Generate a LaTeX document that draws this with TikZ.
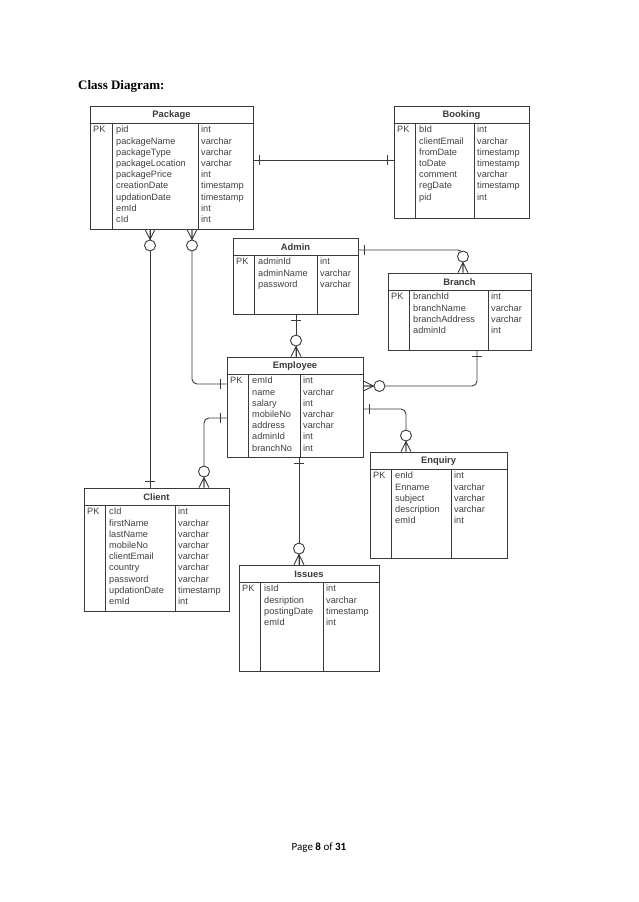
\documentclass[tikz,border=0pt]{standalone}
\usepackage{fontspec}
\setmainfont{Liberation Sans}
\newfontfamily\serifff{Liberation Serif}
\newfontfamily\calib{Carlito}
\usetikzlibrary{fit,calc}
\definecolor{ln}{HTML}{3A3A3A}
\definecolor{tx}{HTML}{404040}
\tikzset{
  ent/.style={draw=ln, line width=0.9pt, inner sep=0pt},
  conn/.style={draw=ln, line width=0.9pt, rounded corners=5pt},
  rowtxt/.style={text=tx, font=\fontsize{9.2}{11.2}\selectfont, align=left, inner sep=0pt, anchor=north west},
  hdr/.style={text=ln, font=\fontsize{9.4}{11.2}\selectfont\bfseries, inner sep=0pt},
  pics/crow/.style={code={
    \draw[ln, line width=0.9pt] (0,-5) -- (10,0) -- (0,5) (0,0) -- (10,0);
    \draw[ln, line width=0.9pt, fill=white] (16,0) circle (5.5);}},
  pics/onebar/.style={code={\draw[ln, line width=0.9pt] (6,-5) -- (6,5);}}
}
\newcommand\ent[8]{%
  \node[ent, fit={(#2,#3)(#4,#5)}] (#1) {};
  \draw[ln, line width=0.9pt] (#2,#3+17) -- (#4,#3+17) (#6,#3+17) -- (#6,#5) (#7,#3+17) -- (#7,#5);
  \node[hdr] at ({(#2+#4)/2},#3+9) {#8};
  \node[rowtxt] at (#2+3,#3+20) {PK};
  \def\dA{#6}\def\dB{#7}\def\tY{#3}}
\newcommand\entrows[2]{%
  \node[rowtxt] at (\dA+4,\tY+20) {#1};
  \node[rowtxt] at (\dB+3,\tY+20) {#2};}
\begin{document}
\begin{tikzpicture}[x=1pt,y=-1pt]
\useasboundingbox[fill=white] (0,0) rectangle (638,902);
\node[anchor=west, inner sep=0pt, font=\serifff\fontsize{13}{15}\selectfont\bfseries] (title) at (78,86) {Class Diagram:};
\node[inner sep=0pt, font=\calib\fontsize{11}{13}\selectfont] (footer) at (319,848) {Page \textbf{8} of \textbf{31}};

\ent{package}{90}{106}{253}{229}{112}{198}{Package}
\entrows{pid\\packageName\\packageType\\packageLocation\\packagePrice\\creationDate\\updationDate\\emId\\cId}{int\\varchar\\varchar\\varchar\\int\\timestamp\\timestamp\\int\\int}
\ent{booking}{394}{106}{529}{218}{415}{474}{Booking}
\entrows{bId\\clientEmail\\fromDate\\toDate\\comment\\regDate\\pid}{int\\varchar\\timestamp\\timestamp\\varchar\\timestamp\\int}
\ent{admin}{233}{238}{358}{314}{254}{317}{Admin}
\entrows{adminId\\adminName\\password}{int\\varchar\\varchar}
\ent{branch}{388}{273}{531}{350}{409}{488}{Branch}
\entrows{branchId\\branchName\\branchAddress\\adminId}{int\\varchar\\varchar\\int}
\ent{employee}{227}{357}{363}{457}{248}{300}{Employee}
\entrows{emId\\name\\salary\\mobileNo\\address\\adminId\\branchNo}{int\\varchar\\int\\varchar\\varchar\\int\\int}
\ent{client}{84}{488}{229}{611}{105}{175}{Client}
\entrows{cId\\firstName\\lastName\\mobileNo\\clientEmail\\country\\password\\updationDate\\emId}{int\\varchar\\varchar\\varchar\\varchar\\varchar\\varchar\\timestamp\\int}
\ent{enquiry}{370}{452}{507}{558}{391}{451}{Enquiry}
\entrows{enId\\Enname\\subject\\description\\emId}{int\\varchar\\varchar\\varchar\\int}
\ent{issues}{239}{565}{379}{671}{260}{323}{Issues}
\entrows{isId\\desription\\postingDate\\emId}{int\\varchar\\timestamp\\int}

\draw[conn] (package.east |- 0,160) -- (booking.west |- 0,160);
\draw[conn] (package.south -| 150,0) -- (client.north -| 150,0);
\draw[conn] (package.south -| 192,0) -- (192,384) -- (employee.west |- 0,384);
\draw[conn] (admin.east |- 0,250) -- (463,250) -- (branch.north -| 463,0);
\draw[conn] (admin.south -| 296,0) -- (employee.north -| 296,0);
\draw[conn] (employee.east |- 0,386) -- (477,386) -- (branch.south -| 477,0);
\draw[conn] (employee.west |- 0,418) -- (204,418) -- (client.north -| 204,0);
\draw[conn] (employee.east |- 0,409) -- (406,409) -- (enquiry.north -| 406,0);
\draw[conn] (employee.south -| 299,0) -- (issues.north -| 299,0);

\pic at (package.east |- 0,160) {onebar};
\pic[rotate=180] at (booking.west |- 0,160) {onebar};
\pic[rotate=-90] at (package.south -| 150,0) {crow};
\pic[rotate=90] at (client.north -| 150,0) {onebar};
\pic[rotate=-90] at (package.south -| 192,0) {crow};
\pic[rotate=180] at (employee.west |- 0,384) {onebar};
\pic at (admin.east |- 0,250) {onebar};
\pic[rotate=90] at (branch.north -| 463,0) {crow};
\pic[rotate=-90] at (admin.south -| 296,0) {onebar};
\pic[rotate=90] at (employee.north -| 296,0) {crow};
\pic at (employee.east |- 0,386) {crow};
\pic[rotate=-90] at (branch.south -| 477,0) {onebar};
\pic[rotate=180] at (employee.west |- 0,418) {onebar};
\pic[rotate=90] at (client.north -| 204,0) {crow};
\pic at (employee.east |- 0,409) {onebar};
\pic[rotate=90] at (enquiry.north -| 406,0) {crow};
\pic[rotate=-90] at (employee.south -| 299,0) {onebar};
\pic[rotate=90] at (issues.north -| 299,0) {crow};
\end{tikzpicture}
\end{document}
